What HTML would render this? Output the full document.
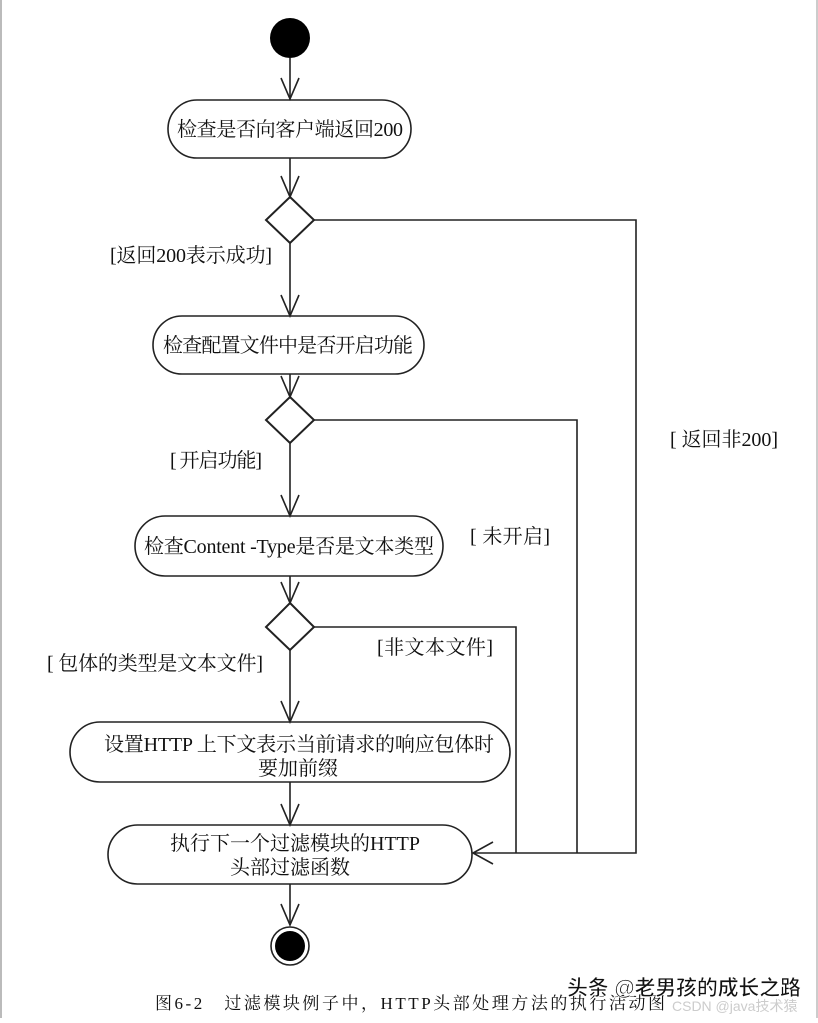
<!DOCTYPE html>
<html><head><meta charset="utf-8"><style>
html,body{margin:0;padding:0;background:#fff}
svg text{font-family:"Liberation Serif","Noto Serif CJK SC",serif;fill:#111}
</style></head><body>
<svg width="818" height="1018" viewBox="0 0 818 1018" xmlns="http://www.w3.org/2000/svg">
<rect x="0" y="0" width="818" height="1018" fill="#fff"/>
<line x1="1" y1="0" x2="1" y2="1018" stroke="#bbb" stroke-width="2"/>
<line x1="817" y1="0" x2="817" y2="1018" stroke="#ccc" stroke-width="2"/>
<g stroke="#222" stroke-width="1.6" fill="none">
<line x1="290" y1="58" x2="290" y2="100"/>
<polyline points="281,78 290,99 299,78"/>
<line x1="290" y1="158" x2="290" y2="197"/>
<polyline points="281,176 290,197 299,176"/>
<line x1="290" y1="243" x2="290" y2="316"/>
<polyline points="281,295 290,316 299,295"/>
<line x1="290" y1="374" x2="290" y2="397"/>
<polyline points="281,376 290,397 299,376"/>
<line x1="290" y1="443" x2="290" y2="516"/>
<polyline points="281,495 290,516 299,495"/>
<line x1="290" y1="576" x2="290" y2="603"/>
<polyline points="281,582 290,603 299,582"/>
<line x1="290" y1="650" x2="290" y2="722"/>
<polyline points="281,701 290,722 299,701"/>
<line x1="290" y1="782" x2="290" y2="825"/>
<polyline points="281,804 290,825 299,804"/>
<line x1="290" y1="884" x2="290" y2="925"/>
<polyline points="281,904 290,925 299,904"/>
<polyline points="314,220 636,220 636,853 473,853"/>
<polyline points="314,420 577,420 577,853"/>
<polyline points="314,627 516,627 516,853"/>
<polyline points="493,842 473,853 493,864"/>
<polygon points="290,197 314,220 290,243 266,220" stroke-width="2"/>
<polygon points="290,397 314,420 290,443 266,420" stroke-width="2"/>
<polygon points="290,603 314,627 290,650 266,627" stroke-width="2"/>
<rect x="168" y="100" width="243" height="58" rx="29"/>
<rect x="153" y="316" width="271" height="58" rx="29"/>
<rect x="135" y="516" width="308" height="60" rx="30"/>
<rect x="70" y="722" width="440" height="60" rx="30"/>
<rect x="108" y="825" width="364" height="59" rx="29.5"/>
<circle cx="290" cy="946" r="19" stroke-width="1.6"/>
</g>
<ellipse cx="290" cy="38" rx="20" ry="20" fill="#000"/>
<circle cx="290" cy="946" r="15" fill="#000"/>
<g font-size="20">
<text x="290" y="136" text-anchor="middle" textLength="226">检查是否向客户端返回200</text>
<text x="288" y="352" text-anchor="middle" textLength="250">检查配置文件中是否开启功能</text>
<text x="289" y="553" text-anchor="middle" textLength="290">检查Content -Type是否是文本类型</text>
<text x="299" y="751" text-anchor="middle" textLength="390">设置HTTP 上下文表示当前请求的响应包体时</text>
<text x="298" y="775" text-anchor="middle">要加前缀</text>
<text x="295" y="850" text-anchor="middle" textLength="250">执行下一个过滤模块的HTTP</text>
<text x="290" y="874" text-anchor="middle">头部过滤函数</text>
<text x="110" y="262" textLength="162">[返回200表示成功]</text>
<text x="170" y="467" textLength="92">[ 开启功能]</text>
<text x="670" y="446" textLength="108">[ 返回非200]</text>
<text x="470" y="543" textLength="80">[ 未开启]</text>
<text x="377" y="654" textLength="116">[非文本文件]</text>
<text x="47" y="670" textLength="216">[ 包体的类型是文本文件]</text>
</g>
<text x="155" y="1009" font-size="17" textLength="510">图6-2　过滤模块例子中，HTTP头部处理方法的执行活动图</text>
<text x="672" y="1011" font-size="14" style="fill:#ccc;font-family:'Liberation Sans','Noto Sans CJK SC',sans-serif">CSDN @java技术猿</text>
<text x="567" y="995" font-size="21" textLength="234" style="fill:#111;font-family:'Liberation Sans','Noto Sans CJK SC',sans-serif;font-weight:bold" stroke="#fff" stroke-width="0.8">头条 @老男孩的成长之路</text>
</svg>
</body></html>
